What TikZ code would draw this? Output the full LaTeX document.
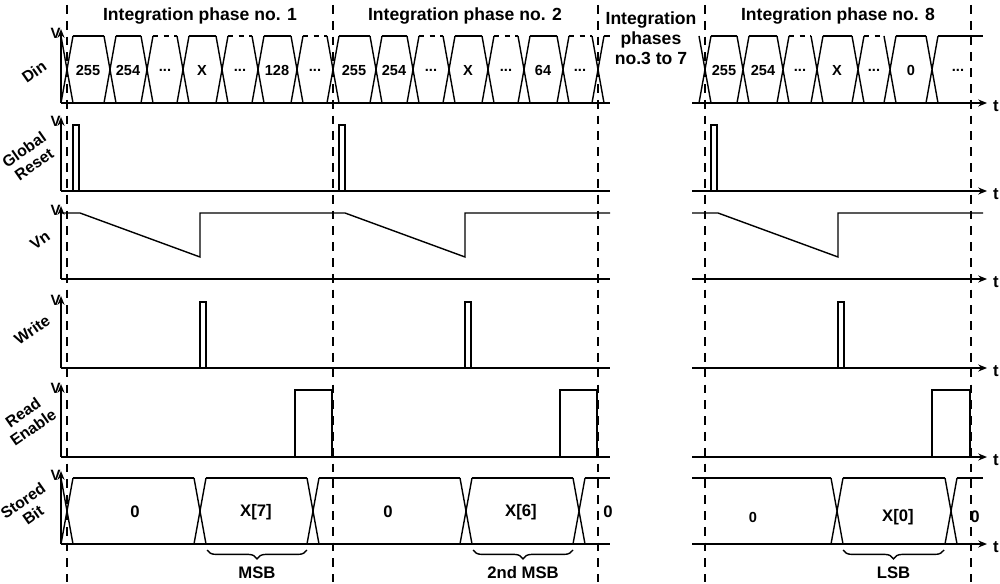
\documentclass[tikz,border=0pt]{standalone}
\usepackage{fontspec}
\setmainfont{Liberation Sans}
\usetikzlibrary{arrows.meta,decorations.pathreplacing}
\def\dd{...}
\begin{document}
\begin{tikzpicture}[x=0.02cm,y=-0.02cm,
  sig/.style={line width=0.8pt,line join=miter},
  divline/.style={line width=0.8pt,dash pattern=on 5pt off 4pt},
  axis/.style={line width=0.9pt,-{Stealth[length=5pt,width=4pt]}},
  hdr/.style={font=\bfseries\fontsize{10}{11.5}\selectfont,align=center},
  val/.style={font=\bfseries\fontsize{8.3}{9}\selectfont},
  bval/.style={font=\bfseries\fontsize{9.5}{10}\selectfont},
  row/.style={font=\bfseries\fontsize{9}{10}\selectfont,rotate=35,align=center,inner sep=0pt},
  vl/.style={font=\bfseries\fontsize{8.5}{9}\selectfont,inner sep=0pt},
  tl/.style={font=\bfseries\fontsize{9.5}{10}\selectfont,inner sep=0pt}]
\useasboundingbox (0,0) rectangle (1000,584);
% dividers
\foreach \x in {67,333,598,705,971} \draw[divline] (\x,5) -- (\x,582);
% headers
\node[hdr] (h1) at (200,16) {Integration phase no. 1};
\node[hdr] (h2) at (465,16) {Integration phase no. 2};
\node[hdr] (h3) at (651,38) {Integration\\phases\\no.3 to 7};
\node[hdr] (h8) at (838,16) {Integration phase no. 8};
% row labels
\node[row] (rdin) at (34,72) {Din};
\node[row] (rgr) at (29,157) {Global\\Reset};
\node[row] (rvn) at (40,240) {Vn};
\node[row] (rwr) at (32,330) {Write};
\node[row] (rre) at (28,420) {Read\\Enable};
\node[row] (rsb) at (28,508) {Stored\\Bit};
% vertical axes
\foreach \b/\t in {103/29,191/117,279/206,368/296,457/384,544/471}{
  \draw[axis] (61,\b) -- (61,\t);
  \node[vl,anchor=east] at (61,\t+4) {V};
}
% horizontal baselines
\foreach \b in {103,191,279,368,457,544}{
  \draw[sig] (61,\b) -- (610,\b);
  \draw[axis] (692,\b) -- (987,\b);
  \node[tl] at (996,\b+3) {t};
}
% ---- Din ----
\foreach \c in {67,110,147,183,222,258,297,333,376,413,449,488,524,563,598,705,743,783,817,858,890,932}{
  \draw[sig] (\c-6,36) -- (\c+6,103) (\c-6,103) -- (\c+6,36);
}
\foreach \a/\b/\s in {67/110/solid,110/147/solid,147/183/dashed,183/222/solid,222/258/dashed,258/297/solid,297/333/dashed,
  333/376/solid,376/413/solid,413/449/dashed,449/488/solid,488/524/dashed,524/563/solid,563/598/dashed,
  705/743/solid,743/783/solid,783/817/dashed,817/858/solid,858/890/dashed,890/932/solid}{
  \draw[sig,\s] (\a+6,36) -- (\b-6,36);
}
\draw[sig] (604,36) -- (610,36);
\draw[sig] (938,36) -- (983,36);
\foreach \x/\t in {88/255,128/254,165/\dd,202/X,240/\dd,277/128,315/\dd,
  354/255,394/254,431/\dd,468/X,506/\dd,543/64,580/\dd,
  724/255,763/254,800/\dd,837/X,874/\dd,911/0,958/\dd}{
  \node[val] at (\x,70) {\t};
}
% ---- Global Reset ----
\foreach \x in {73,339,711}{
  \draw[sig] (\x,191) -- (\x,125) -- (\x+6,125) -- (\x+6,191);
}
% ---- Vn ----
\draw[sig] (61,213) -- (80,213) -- (200,257) -- (200,213) -- (345,213) -- (465,257) -- (465,213) -- (610,213);
\draw[sig] (692,213) -- (718,213) -- (838,257) -- (838,213) -- (983,213);
% ---- Write ----
\foreach \x in {200,465,838}{
  \draw[sig] (\x,368) -- (\x,302) -- (\x+6,302) -- (\x+6,368);
}
% ---- Read Enable ----
\foreach \x/\y in {295/332,560/597,932/970}{
  \draw[sig] (\x,457) -- (\x,390) -- (\y,390) -- (\y,457);
}
% ---- Stored Bit ----
\foreach \c in {67,200,313,466,579,837,951}{
  \draw[sig] (\c-6,478) -- (\c+6,544) (\c-6,544) -- (\c+6,478);
}
\draw[sig] (73,478) -- (194,478) (206,478) -- (307,478) (319,478) -- (460,478) (472,478) -- (573,478) (585,478) -- (610,478);
\draw[sig] (692,478) -- (831,478) (843,478) -- (945,478) (957,478) -- (983,478);
\node[bval] (s0a) at (135,512) {0};
\node[bval] (s7) at (256,512) {X[7]};
\node[bval] (s0b) at (388,512) {0};
\node[bval] (s6) at (521,512) {X[6]};
\node[bval] (s0c) at (608,512) {0};
\node[val] (s0d) at (753,517) {0};
\node[bval] (sx0) at (898,517) {X[0]};
\node[bval] (s0e) at (975,517) {0};
% braces
\foreach \a/\b/\t in {207/307/MSB,473/573/2nd MSB,843/944/LSB}{
  \draw[sig,decorate,decoration={brace,mirror,amplitude=5pt}] (\a,550) -- (\b,550);
  \node[bval] at ({(\a+\b)/2},573) {\t};
}
\end{tikzpicture}
\end{document}
